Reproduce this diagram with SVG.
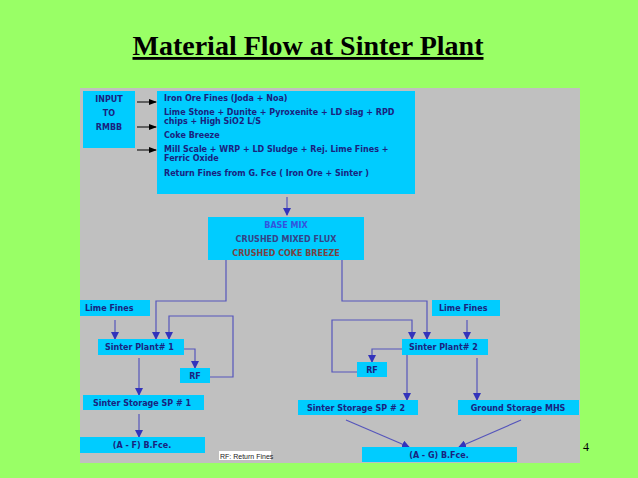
<svg xmlns="http://www.w3.org/2000/svg" width="638" height="478" viewBox="0 0 638 478">
<style>
.b{fill:#00ccff}
.t{font-family:Verdana,"DejaVu Sans",sans-serif;font-size:8px;font-weight:bold;fill:#1a237e}
.c{fill:none;stroke:#5555bb;stroke-width:1.2}
.k{fill:none;stroke:#000;stroke-width:1}
</style>
<defs>
<marker id="a" markerWidth="8" markerHeight="8" refX="7" refY="4" orient="auto" markerUnits="userSpaceOnUse"><path d="M0,0L8,4L0,8z" fill="#3333bb"/></marker>
<marker id="k" markerWidth="8" markerHeight="8" refX="7" refY="4" orient="auto" markerUnits="userSpaceOnUse"><path d="M0,1L8,4L0,7z" fill="#000"/></marker>
</defs>
<rect width="638" height="478" fill="#99ff66"/>
<text x="308" y="55" text-anchor="middle" font-family="Liberation Serif,serif" font-size="28" font-weight="bold" text-decoration="underline" fill="#000">Material Flow at Sinter Plant</text>
<rect x="80" y="88" width="500" height="375" fill="#c0c0c0"/>
<text x="583" y="451" font-family="Liberation Serif,serif" font-size="12" fill="#000">4</text>
<g id="connectors">
<path class="k" d="M137,102H156" marker-end="url(#k)"/>
<path class="k" d="M137,127H156" marker-end="url(#k)"/>
<path class="k" d="M137,150H156" marker-end="url(#k)"/>
<path class="c" d="M287,197V215" marker-end="url(#a)"/>
<path class="c" d="M226,260V301H156V339" marker-end="url(#a)"/>
<path class="c" d="M342,260V301H427V339" marker-end="url(#a)"/>
<path class="c" d="M115,320V339" marker-end="url(#a)"/>
<path class="c" d="M210,377H233V316H169V339" marker-end="url(#a)"/>
<path class="c" d="M184,349H195V368" marker-end="url(#a)"/>
<path class="c" d="M139,358V395" marker-end="url(#a)"/>
<path class="c" d="M139,414V437" marker-end="url(#a)"/>
<path class="c" d="M467,320V339" marker-end="url(#a)"/>
<path class="c" d="M357,372H332V320H412V339" marker-end="url(#a)"/>
<path class="c" d="M402,349H372V362" marker-end="url(#a)"/>
<path class="c" d="M407,355V400" marker-end="url(#a)"/>
<path class="c" d="M477,358V400" marker-end="url(#a)"/>
<path class="c" d="M346,420L409,447" marker-end="url(#a)"/>
<path class="c" d="M521,420L459,447" marker-end="url(#a)"/>
</g>
<g id="input"><rect class="b" x="83" y="91" width="52" height="57"/>
<text class="t" text-anchor="middle" x="109" y="102">INPUT</text><text class="t" text-anchor="middle" x="109" y="116">TO</text><text class="t" text-anchor="middle" x="109" y="130">RMBB</text></g>
<g id="materials"><rect class="b" x="157" y="91" width="258" height="103"/>
<g class="t"><text x="164" y="101">Iron Ore Fines (Joda + Noa)</text>
<text x="164" y="115">Lime Stone + Dunite + Pyroxenite + LD slag + RPD</text>
<text x="164" y="124">chips + High SiO2 L/S</text>
<text x="164" y="138">Coke Breeze</text>
<text x="164" y="152">Mill Scale + WRP + LD Sludge + Rej. Lime Fines +</text>
<text x="164" y="161">Ferric Oxide</text>
<text x="164" y="176">Return Fines from G. Fce ( Iron Ore + Sinter )</text></g></g>
<g id="basemix"><rect class="b" x="208" y="217" width="156" height="43"/>
<text class="t" text-anchor="middle" x="286" y="228" style="fill:#3355dd">BASE MIX</text>
<text class="t" text-anchor="middle" x="286" y="242" style="fill:#334488">CRUSHED MIXED FLUX</text>
<text class="t" text-anchor="middle" x="286" y="256" style="fill:#774444">CRUSHED COKE BREEZE</text></g>
<g id="lf1"><rect class="b" x="80" y="300" width="70" height="16"/><text class="t" x="85" y="311">Lime Fines</text></g>
<g id="sp1"><rect class="b" x="98" y="339" width="86" height="16"/><text class="t" x="105" y="350">Sinter Plant# 1</text></g>
<g id="rf1"><rect class="b" x="180" y="368" width="30" height="15"/><text class="t" text-anchor="middle" x="195" y="379">RF</text></g>
<g id="ss1"><rect class="b" x="83" y="395" width="121" height="15"/><text class="t" x="93" y="406">Sinter Storage SP # 1</text></g>
<g id="af"><rect class="b" x="80" y="437" width="125" height="16"/><text class="t" text-anchor="middle" x="142" y="448">(A - F) B.Fce.</text></g>
<g id="legend"><rect x="219" y="451" width="52" height="9" fill="#fff"/><text x="220" y="458.5" font-family="Liberation Sans,sans-serif" font-size="7" fill="#222">RF: Return Fines</text></g>
<g id="lf2"><rect class="b" x="432" y="300" width="68" height="16"/><text class="t" x="439" y="311">Lime Fines</text></g>
<g id="sp2"><rect class="b" x="402" y="339" width="86" height="16"/><text class="t" x="409" y="350">Sinter Plant# 2</text></g>
<g id="rf2"><rect class="b" x="357" y="362" width="30" height="15"/><text class="t" text-anchor="middle" x="372" y="373">RF</text></g>
<g id="ss2"><rect class="b" x="298" y="400" width="120" height="15"/><text class="t" x="307" y="411">Sinter Storage SP # 2</text></g>
<g id="mhs"><rect class="b" x="458" y="400" width="121" height="15"/><text class="t" text-anchor="middle" x="518" y="411">Ground Storage MHS</text></g>
<g id="ag"><rect class="b" x="362" y="447" width="155" height="15"/><text class="t" text-anchor="middle" x="439" y="458">(A - G) B.Fce.</text></g>
</svg>
